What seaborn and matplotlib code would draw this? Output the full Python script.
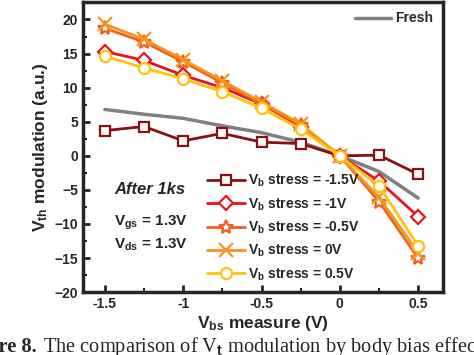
import numpy as np
import pandas as pd
import matplotlib.pyplot as plt
import seaborn as sns

sns.set_style('ticks')
plt.rcParams['font.family'] = ['Liberation Sans', 'DejaVu Sans']
plt.rcParams['font.weight'] = 'bold'
plt.rcParams['mathtext.fontset'] = 'custom'
plt.rcParams['mathtext.rm'] = 'Liberation Sans:bold'
plt.rcParams['mathtext.it'] = 'Liberation Sans:bold'
plt.rcParams['mathtext.bf'] = 'Liberation Sans:bold'

vbs = [-1.5, -1.25, -1.0, -0.75, -0.5, -0.25, 0.0, 0.25, 0.5]
fresh = [6.8, 6.1, 5.5, 4.4, 3.4, 2.0, 0.0, -2.3, -6.2]
stress_m15 = [3.7, 4.3, 2.2, 3.3, 2.0, 1.8, 0.0, 0.1, -2.7]
stress_m10 = [15.3, 14.0, 11.8, 10.0, 7.6, 4.3, 0.0, -3.7, -8.9]
stress_m05 = [18.7, 16.7, 13.8, 10.7, 7.6, 4.5, 0.0, -6.7, -15.0]
stress_0 = [19.3, 17.1, 14.1, 11.0, 7.9, 4.7, 0.0, -6.1, -14.2]
stress_p05 = [14.6, 12.9, 11.3, 9.4, 7.0, 3.9, 0.0, -4.4, -13.2]

labels = ['V$_b$ stress = -1.5V', 'V$_b$ stress = -1V', 'V$_b$ stress = -0.5V',
          'V$_b$ stress = 0V', 'V$_b$ stress = 0.5V']
series = [stress_m15, stress_m10, stress_m05, stress_0, stress_p05]
colors = ['#8B1010', '#E8141B', '#F0601E', '#F7941D', '#FFC20E']
marks = ['s', 'D', '*', 'x', 'o']
msizes = [7, 7, 10, 10, 8]

fig = plt.figure(figsize=(4.74, 3.55), dpi=100)
ax = fig.add_axes([0.175, 0.177, 0.76, 0.818])

sns.lineplot(x=vbs, y=fresh, color='#808080', lw=2.5, ax=ax, label='Fresh')
for vals, lab, c, m, ms in zip(series, labels, colors, marks, msizes):
    sns.lineplot(x=vbs, y=vals, color=c, lw=2, marker=m, markersize=ms,
                 markerfacecolor='white', markeredgecolor=c, markeredgewidth=1.6,
                 ax=ax, label=lab)

lines = ax.get_lines()
leg1 = ax.legend([lines[0]], ['Fresh'], loc='upper right', frameon=False,
                 fontsize=10, handlelength=2.6, handletextpad=0.3, borderaxespad=0.3)
ax.add_artist(leg1)
ax.legend(lines[1:6], labels, loc='upper left', bbox_to_anchor=(0.33, 0.43),
          borderaxespad=0, frameon=False, fontsize=10, handlelength=2.7,
          handletextpad=0.2, labelspacing=0.5)

ax.set_xlim(-1.64, 0.66)
ax.set_ylim(-20, 22.6)
ax.set_xticks([-1.5, -1, -0.5, 0, 0.5])
ax.set_xticklabels(['-1.5', '-1', '-0.5', '0', '0.5'])
ax.set_yticks(range(-20, 21, 5))
ax.set_xticks(np.arange(-1.25, 0.5, 0.5), minor=True)
ax.set_yticks(np.arange(-17.5, 20, 5), minor=True)
ax.tick_params(direction='in', width=2, length=5, labelsize=10, which='major')
ax.tick_params(direction='in', width=1.5, length=3, which='minor')
for s in ax.spines.values():
    s.set_linewidth(2.5)

ax.set_xlabel('V$_{bs}$ measure (V)', fontsize=12.5, fontweight='bold', labelpad=2)
ax.set_ylabel('V$_{th}$ modulation (a.u.)', fontsize=12.5, fontweight='bold', labelpad=3)

ax.text(-1.44, -5.6, 'After 1ks', fontsize=12, fontweight='bold', style='italic')
ax.text(-1.44, -10.3, 'V$_{gs}$ = 1.3V', fontsize=11, fontweight='bold')
ax.text(-1.44, -13.6, 'V$_{ds}$ = 1.3V', fontsize=11, fontweight='bold')

# caption, cut at the image edges like the source
fig.text(37 / 474, 0.008, 'Figure 8.', ha='right', va='baseline',
         fontsize=14.7, family='Liberation Serif', fontweight='bold')
fig.text(43 / 474, 0.008, 'The comparison of V$_t$ modulation by body bias effect',
         ha='left', va='baseline', fontsize=14.7, family='Liberation Serif',
         fontweight='normal')

fig.savefig('out.png', dpi=100)
